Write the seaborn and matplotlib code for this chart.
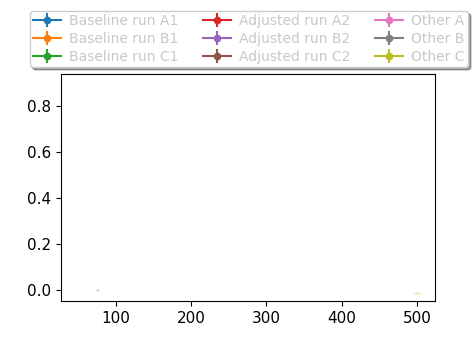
import matplotlib
matplotlib.use("Agg")
import matplotlib.pyplot as plt
import seaborn as sns
import numpy as np
import pandas as pd

# ---- data ----
series_labels = [
    "Baseline run A1", "Baseline run B1", "Baseline run C1",
    "Adjusted run A2", "Adjusted run B2", "Adjusted run C2",
    "Other A", "Other B", "Other C",
]
series_colors = ["tab:blue", "tab:orange", "tab:green", "tab:red", "tab:purple",
                 "tab:brown", "tab:pink", "tab:gray", "tab:olive"]
# only faint points visible in the reference
point_series = ["Other B", "Other C"]
point_x = [76, 500]
point_y = [0.0, -0.013]
point_xerr = [2, 5]

xlim = (27, 524)
ylim = (-0.048, 0.94)
yticks = [0.0, 0.2, 0.4, 0.6, 0.8]
xticks = [100, 200, 300, 400, 500]

fig = plt.figure(figsize=(4.74, 3.47), dpi=100)
ax = fig.add_axes([61/474, 1-301/347, (435-61)/474, (301-74)/347])

df = pd.DataFrame({"x": point_x, "y": point_y, "series": point_series})
palette = dict(zip(series_labels, series_colors))
sns.scatterplot(data=df, x="x", y="y", hue="series", palette=palette, ax=ax,
                s=2, alpha=0.25, legend=False, edgecolor="none")
for sx, sy, se, name in zip(point_x, point_y, point_xerr, point_series):
    ax.errorbar([sx], [sy], xerr=[se], fmt="none", ecolor=palette[name],
                alpha=0.35, lw=0.8)

# legend handles (errorbar style)
handles = []
for lab, col in zip(series_labels, series_colors):
    h = ax.errorbar([np.nan], [np.nan], yerr=[1], fmt="-o", color=col,
                    ms=4.5, label=lab)
    handles.append(h)

ax.set_xlim(*xlim)
ax.set_ylim(*ylim)
ax.set_xticks(xticks)
ax.set_yticks(yticks)
ax.tick_params(labelsize=11)
ax.set_xlabel("")
ax.set_ylabel("")

leg = fig.legend(handles, series_labels, loc="lower left", ncol=3, mode="expand",
                 bbox_to_anchor=(30/474, 1-67/347, (468-30)/474, (67-10)/347),
                 shadow=True, fancybox=True, frameon=True, borderaxespad=0,
                 borderpad=0.22, handletextpad=0.6,
                 labelspacing=0.29, handlelength=2.0, fontsize=10)
for t in leg.get_texts():
    t.set_color("#c8c8c8")

fig.savefig("out.png", dpi=100)
